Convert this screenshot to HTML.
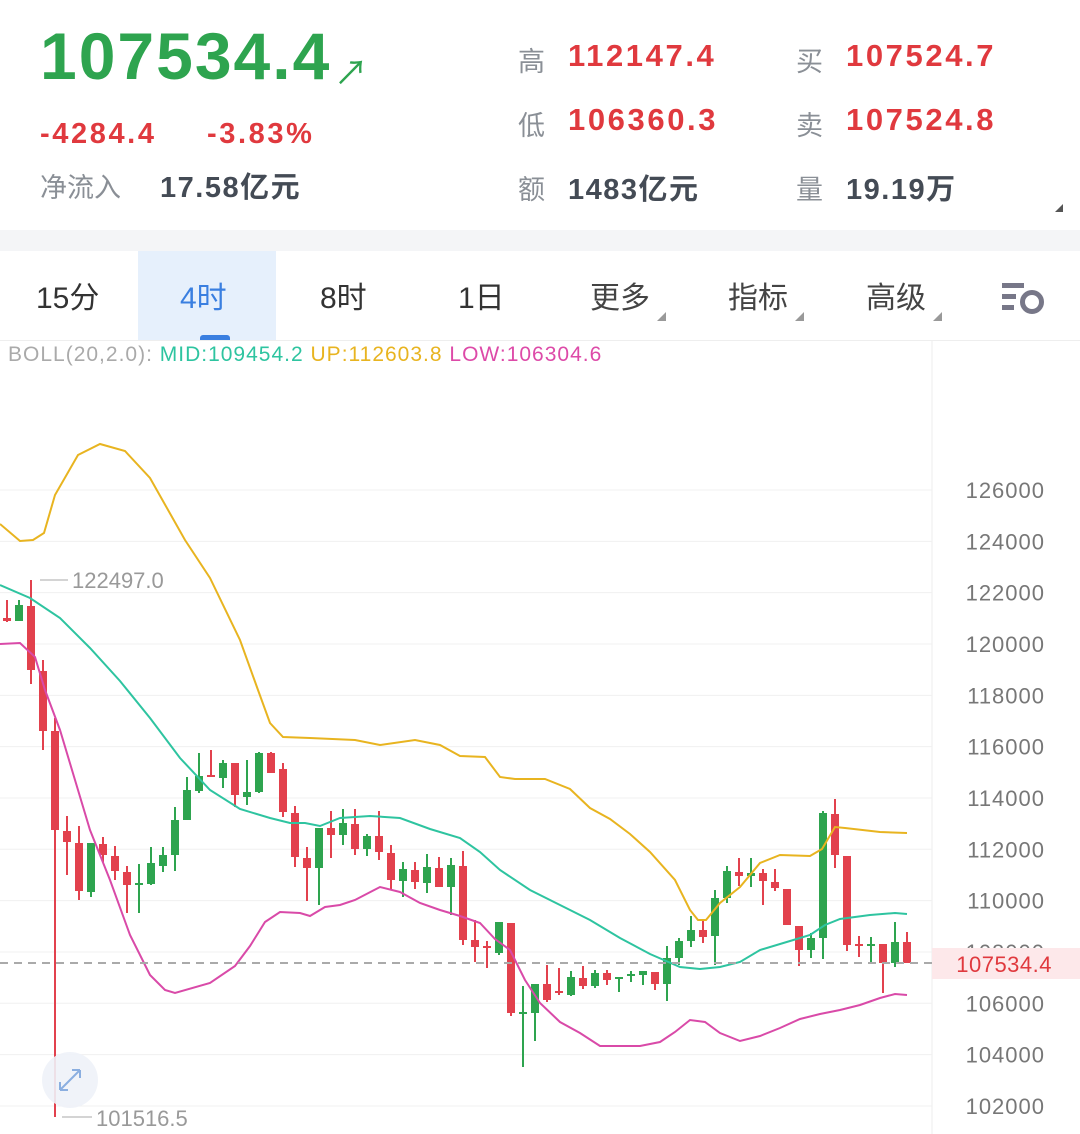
<!DOCTYPE html>
<html><head><meta charset="utf-8"><style>
body{margin:0;width:1080px;height:1134px;background:#fff;position:relative;overflow:hidden;font-family:"Liberation Sans","Noto Sans CJK SC",sans-serif}
.a{position:absolute;white-space:nowrap}
.r{color:#e0393e;font-weight:bold;letter-spacing:2.6px}
.g{color:#8a8f96}
.d{color:#444b55;font-weight:bold;letter-spacing:1.5px}
</style></head><body>
<div class="a" style="left:40px;top:18px;font-size:66px;font-weight:bold;color:#2ea44f;letter-spacing:2px">107534.4</div>
<div class="a" style="left:334px;top:46px;font-size:34px;color:#2ea44f">↗</div>
<div class="a r" style="left:40px;top:118px;font-size:29px">-4284.4</div>
<div class="a r" style="left:207px;top:118px;font-size:29px">-3.83%</div>
<div class="a g" style="left:40px;top:166px;font-size:27px">净流入</div>
<div class="a d" style="left:160px;top:164px;font-size:29px">17.58亿元</div>
<div class="a g" style="left:518px;top:40px;font-size:27px">高</div>
<div class="a r" style="left:568px;top:38px;font-size:31px">112147.4</div>
<div class="a g" style="left:796px;top:40px;font-size:27px">买</div>
<div class="a r" style="left:846px;top:38px;font-size:31px">107524.7</div>
<div class="a g" style="left:518px;top:104px;font-size:27px">低</div>
<div class="a r" style="left:568px;top:102px;font-size:31px">106360.3</div>
<div class="a g" style="left:796px;top:104px;font-size:27px">卖</div>
<div class="a r" style="left:846px;top:102px;font-size:31px">107524.8</div>
<div class="a g" style="left:518px;top:168px;font-size:27px">额</div>
<div class="a d" style="left:568px;top:166px;font-size:29px">1483亿元</div>
<div class="a g" style="left:796px;top:168px;font-size:27px">量</div>
<div class="a d" style="left:846px;top:166px;font-size:29px">19.19万</div>
<div class="a" style="left:1055px;top:204px;width:0;height:0;border-left:8px solid transparent;border-bottom:8px solid #555"></div>
<div class="a" style="left:0;top:230px;width:1080px;height:21px;background:#f4f5f7"></div>
<div class="a" style="left:138px;top:251px;width:138px;height:89px;background:#e6f0fc"></div>
<div class="a" style="left:200px;top:335px;width:30px;height:5px;background:#3a7fe0;border-radius:3px 3px 0 0"></div>
<div class="a" style="left:36px;top:273px;font-size:30px;color:#333">15分</div>
<div class="a" style="left:180px;top:273px;font-size:30px;color:#3a7fe0">4时</div>
<div class="a" style="left:320px;top:273px;font-size:30px;color:#333">8时</div>
<div class="a" style="left:458px;top:273px;font-size:30px;color:#333">1日</div>
<div class="a" style="left:590px;top:273px;font-size:30px;color:#444">更多</div>
<div class="a" style="left:728px;top:273px;font-size:30px;color:#444">指标</div>
<div class="a" style="left:866px;top:273px;font-size:30px;color:#444">高级</div>
<div class="a" style="left:1002px;top:283px;width:22px;height:5px;background:#778"></div>
<div class="a" style="left:1002px;top:294px;width:14px;height:5px;background:#778"></div>
<div class="a" style="left:1002px;top:305px;width:12px;height:5px;background:#778"></div>
<div class="a" style="left:1020px;top:290px;width:14px;height:14px;border:5px solid #778;border-radius:50%"></div>
<div class="a" style="left:0;top:340px;width:1080px;height:1px;background:#eee"></div>
<div class="a" style="left:8px;top:343px;font-size:21px;color:#aaa;letter-spacing:1px">BOLL(20,2.0): <span style="color:#2ec4a0">MID:109454.2</span> <span style="color:#e8b420">UP:112603.8</span> <span style="color:#dd4aa8">LOW:106304.6</span></div>
<svg class="a" style="left:0;top:0" width="1080" height="1134" id="s"></svg>
<script>
var s='';
s+='<line x1="932" y1="341" x2="932" y2="1134" stroke="#eee"/>';
[[657,321],[795,321],[933,321]].forEach(function(p){s+='<polygon points="'+(p[0]+9)+','+(p[1]-9)+' '+(p[0]+9)+','+p[1]+' '+p[0]+','+p[1]+'" fill="#999"/>';});
var labs=[126000,124000,122000,120000,118000,116000,114000,112000,110000,108000,106000,104000,102000];
labs.forEach(function(v,i){var y=490+i*51.33;s+='<line x1="0" y1="'+y+'" x2="932" y2="'+y+'" stroke="#f0f0f0"/>';s+='<text x="1045" y="'+(y+8)+'" text-anchor="end" font-size="22" letter-spacing="1" fill="#777" font-family="Liberation Sans">'+v+'</text>';});
var C=[[7,'r',618,621,600,622],[19,'g',605,621,600,621],[31,'r',606,670,580,684],[43,'r',671,731,660,750],[55,'r',731,830,718,1117],[67,'r',831,842,816,875],[79,'r',843,891,826,900],[91,'g',843,892,843,897],[103,'r',844,855,837,862],[115,'r',856,871,846,880],[127,'r',872,885,866,913],[139,'g',883,885,864,913],[151,'g',863,884,847,885],[163,'g',855,866,847,872],[175,'g',820,855,807,871],[187,'g',790,820,777,820],[199,'g',776,791,753,793],[211,'r',775,777,750,777],[223,'g',763,778,760,788],[235,'r',763,795,763,807],[247,'g',792,797,760,805],[259,'g',753,792,752,793],[271,'r',753,773,752,772],[283,'r',769,812,763,817],[295,'r',813,857,806,867],[307,'r',858,868,847,901],[319,'g',828,868,828,905],[331,'r',828,835,811,858],[343,'g',823,835,809,845],[355,'r',824,849,809,855],[367,'g',836,849,834,856],[379,'r',836,852,811,860],[391,'r',853,880,845,890],[403,'g',869,881,862,897],[415,'r',870,882,862,889],[427,'g',867,883,854,893],[439,'r',868,887,857,887],[451,'g',865,887,858,915],[463,'r',866,940,851,945],[475,'r',940,947,920,962],[487,'r',946,948,941,968],[499,'g',922,953,922,955],[511,'r',923,1013,923,1016],[523,'g',1012,1014,986,1067],[535,'g',984,1013,984,1041],[547,'r',984,1000,965,1002],[559,'r',991,993,968,995],[571,'g',977,995,971,996],[583,'r',978,986,966,989],[595,'g',973,986,970,988],[607,'r',973,980,970,985],[619,'g',977,979,977,992],[631,'g',974,976,971,982],[643,'g',971,975,971,985],[655,'r',972,984,972,990],[667,'g',958,984,946,1001],[679,'g',941,958,938,965],[691,'g',930,941,916,947],[703,'r',930,937,920,943],[715,'g',898,936,890,965],[727,'g',871,898,866,903],[739,'r',872,876,858,886],[751,'g',873,876,858,887],[763,'r',873,881,869,905],[775,'r',882,888,869,891],[787,'r',889,925,889,925],[799,'r',926,950,926,966],[811,'g',938,950,933,958],[823,'g',813,938,811,959],[835,'r',814,855,799,868],[847,'r',856,945,856,951],[859,'r',944,946,936,957],[871,'g',944,946,937,963],[883,'r',944,963,944,993],[895,'g',942,963,922,967],[907,'r',942,963,932,963]];
C.forEach(function(c){var col=c[1]=='r'?'#e2414d':'#2ea44f';s+='<line x1="'+c[0]+'" y1="'+c[4]+'" x2="'+c[0]+'" y2="'+c[5]+'" stroke="'+col+'" stroke-width="2"/>';s+='<rect x="'+(c[0]-4)+'" y="'+c[2]+'" width="8" height="'+Math.max(2,c[3]-c[2])+'" fill="'+col+'"/>';});
function pl(p,col){s+='<polyline fill="none" stroke="'+col+'" stroke-width="2" points="'+p+'"/>';}
pl('0,524 20,541 33,540 44,533 55,495 78,455 100,444 125,451 150,478 185,540 210,578 240,640 258,690 270,723 283,737 310,738 355,740 380,745 415,740 440,745 460,756 485,757 500,777 515,779 545,779 570,789 590,808 610,819 630,834 650,852 675,880 690,910 698,920 706,920 720,903 740,887 760,863 780,855 810,856 822,849 835,827 845,828 880,832 907,833','#e8b420');
pl('0,585 30,598 60,618 90,648 120,681 150,718 180,758 210,790 240,809 270,818 290,823 305,823 320,826 340,818 370,816 400,818 430,829 460,838 480,852 500,870 530,890 560,905 590,920 620,938 650,954 680,967 700,969 720,967 740,962 760,950 790,941 810,935 825,925 840,919 870,915 895,913 907,914','#2ec4a0');
pl('0,644 20,643 35,657 45,690 60,730 75,780 90,830 110,880 130,935 150,975 165,990 175,993 210,983 235,966 250,946 265,922 280,912 300,913 310,916 325,907 340,905 355,900 380,887 400,892 420,903 440,910 460,916 480,923 495,939 510,950 525,980 540,1003 560,1022 580,1033 600,1046 640,1046 660,1042 675,1032 690,1020 705,1022 720,1033 740,1041 760,1036 780,1028 800,1019 820,1014 840,1010 860,1005 880,998 895,994 907,995','#d94aa8');
s+='<line x1="0" y1="963" x2="932" y2="963" stroke="#aaa" stroke-width="2" stroke-dasharray="8,6"/>';
s+='<rect x="932" y="948" width="148" height="31" fill="#fde8ea"/>';
s+='<text x="1052" y="972" text-anchor="end" font-size="22" letter-spacing="0.5" fill="#e0393e" font-family="Liberation Sans">107534.4</text>';
s+='<line x1="40" y1="580" x2="68" y2="580" stroke="#aaa"/><text x="72" y="588" font-size="22" fill="#999" font-family="Liberation Sans">122497.0</text>';
s+='<line x1="62" y1="1117" x2="92" y2="1117" stroke="#aaa"/><text x="96" y="1126" font-size="22" fill="#999" font-family="Liberation Sans">101516.5</text>';
s+='<circle cx="70" cy="1080" r="28" fill="#eef2f8" opacity="0.9"/><path d="M60 1090 L80 1070 M60 1090 l0 -8 M60 1090 l8 0 M80 1070 l-8 0 M80 1070 l0 8" stroke="#8aaee0" stroke-width="2" fill="none"/>';
document.getElementById('s').innerHTML=s;
</script>
</body></html>
